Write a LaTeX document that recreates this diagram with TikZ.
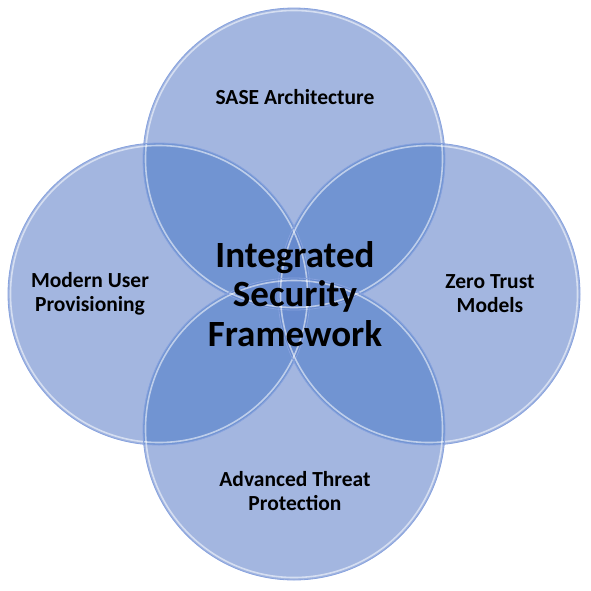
\documentclass[tikz,border=0pt]{standalone}
\usepackage{fontspec}
\setmainfont{Carlito}
\definecolor{fillA}{RGB}{163,182,224}
\definecolor{fillB}{RGB}{113,148,210}
\definecolor{fillC}{RGB}{103,138,206}
\definecolor{rimA}{RGB}{135,162,222}
\begin{document}
\begin{tikzpicture}[x=1pt,y=-1pt,
  lbl/.style={font=\bfseries\fontsize{21.5}{24}\selectfont, align=center, text=black, inner sep=0pt},
  bigl/.style={font=\bfseries\fontsize{37}{39.5}\selectfont, align=center, text=black, inner sep=0pt},
  rimout/.style={draw=rimA, line width=0.8pt},
  rimin/.style={draw=white, opacity=0.55, line width=1.6pt}]
\useasboundingbox (0,0) rectangle (591,590);
\def\R{151}
\coordinate (T) at (294,159);
\coordinate (L) at (159,294);
\coordinate (Rc) at (429,294);
\coordinate (B) at (294,429);
% base fills
\foreach \c in {T,L,Rc,B} \fill[fillA] (\c) circle (\R);
% pairwise overlaps
\begin{scope}\clip (T) circle (\R);
  \fill[fillB] (L) circle (\R); \fill[fillB] (Rc) circle (\R); \fill[fillB] (B) circle (\R);
\end{scope}
\begin{scope}\clip (L) circle (\R);
  \fill[fillB] (Rc) circle (\R); \fill[fillB] (B) circle (\R);
\end{scope}
\begin{scope}\clip (Rc) circle (\R);
  \fill[fillB] (B) circle (\R);
\end{scope}
% opposite overlaps (slightly darker)
\begin{scope}\clip (T) circle (\R); \fill[fillC] (B) circle (\R); \end{scope}
\begin{scope}\clip (L) circle (\R); \fill[fillC] (Rc) circle (\R); \end{scope}
% rims
\foreach \c in {T,L,Rc,B} {
  \draw[rimout] (\c) circle (\R);
  \draw[rimin] (\c) circle (\R-2.5);
}
% labels
\node[lbl] (sase) at (295,97) {SASE Architecture};
\node[lbl] (mup) at (90,294) {Modern User\\Provisioning};
\node[lbl] (ztm) at (490,294) {Zero Trust\\Models};
\node[lbl] (atp) at (295,491) {Advanced Threat\\Protection};
\node[bigl] (isf) at (295,294) {Integrated\\Security\\Framework};
\end{tikzpicture}
\end{document}
